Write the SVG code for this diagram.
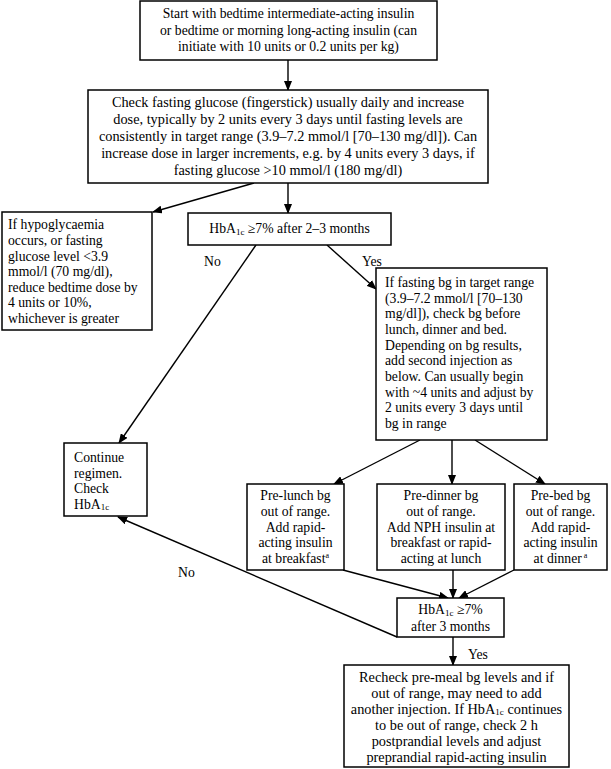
<svg xmlns="http://www.w3.org/2000/svg" width="611" height="769" viewBox="0 0 611 769">
<defs>
<marker id="ah" markerWidth="10" markerHeight="8" refX="9" refY="4" orient="auto" markerUnits="userSpaceOnUse">
<path d="M0,0 L10,4 L0,8 Z" fill="#000"/>
</marker>
<style>
.box{fill:#fff;stroke:#000;stroke-width:1.5}
.t{font-family:"Liberation Serif","Times New Roman",serif;font-size:13.7px;fill:#000}
.w{font-size:14.3px}
.c{text-anchor:middle}
.arr{stroke:#000;stroke-width:1.4;fill:none;marker-end:url(#ah)}
</style>
</defs>
<rect width="611" height="769" fill="#fff"/>
<g id="connectors">
<line class="arr" x1="288" y1="60" x2="288" y2="90"/>
<line class="arr" x1="254" y1="183" x2="153" y2="212"/>
<line class="arr" x1="288" y1="183" x2="288" y2="213"/>
<line class="arr" x1="256" y1="245" x2="119" y2="443"/>
<line class="arr" x1="327" y1="245" x2="376" y2="289"/>
<line class="arr" x1="420" y1="440" x2="334" y2="484"/>
<line class="arr" x1="452" y1="440" x2="452" y2="484"/>
<line class="arr" x1="475" y1="440" x2="545" y2="484"/>
<line class="arr" x1="343" y1="570" x2="448" y2="598"/>
<line class="arr" x1="453" y1="570" x2="453" y2="598"/>
<line class="arr" x1="514" y1="570" x2="459" y2="598"/>
<line class="arr" x1="397" y1="637" x2="118" y2="517"/>
<line class="arr" x1="453" y1="637" x2="453" y2="665"/>
<text class="t" x="204" y="266">No</text>
<text class="t" x="362" y="266">Yes</text>
<text class="t" x="178" y="577">No</text>
<text class="t" x="468" y="659">Yes</text>
</g>
<g id="start">
<rect class="box" x="140" y="1" width="297" height="59"/>
<text class="t c" x="288.5" y="18">Start with bedtime intermediate-acting insulin</text>
<text class="t c" x="288.5" y="34.5">or bedtime or morning long-acting insulin (can</text>
<text class="t c" x="288.5" y="51">initiate with 10 units or 0.2 units per kg)</text>
</g>
<g id="check-fasting">
<rect class="box" x="88" y="90" width="400" height="93"/>
<text class="t w c" x="288" y="107">Check fasting glucose (fingerstick) usually daily and increase</text>
<text class="t w c" x="288" y="124">dose, typically by 2 units every 3 days until fasting levels are</text>
<text class="t w c" x="288" y="141">consistently in target range (3.9–7.2 mmol/l [70–130 mg/dl]). Can</text>
<text class="t w c" x="288" y="158">increase dose in larger increments, e.g. by 4 units every 3 days, if</text>
<text class="t w c" x="288" y="175">fasting glucose &gt;10 mmol/l (180 mg/dl)</text>
</g>
<g id="hypo">
<rect class="box" x="2" y="212" width="150" height="118"/>
<text class="t" x="8" y="229">If hypoglycaemia</text>
<text class="t" x="8" y="245">occurs, or fasting</text>
<text class="t" x="8" y="260.5">glucose level &lt;3.9</text>
<text class="t" x="8" y="276">mmol/l (70 mg/dl),</text>
<text class="t" x="8" y="291.5">reduce bedtime dose by</text>
<text class="t" x="8" y="307">4 units or 10%,</text>
<text class="t" x="8" y="322.5">whichever is greater</text>
</g>
<g id="hba1c-1">
<rect class="box" x="188" y="213" width="203" height="32"/>
<text class="t c" x="289.5" y="233">HbA<tspan font-size="9" dy="2">1c</tspan><tspan dy="-2"> ≥7% after 2–3 months</tspan></text>
</g>
<g id="fasting-target">
<rect class="box" x="376" y="268" width="171" height="172"/>
<text class="t" x="385" y="287">If fasting bg in target range</text>
<text class="t" x="385" y="302.5">(3.9–7.2 mmol/l [70–130</text>
<text class="t" x="385" y="318">mg/dl]), check bg before</text>
<text class="t" x="385" y="334">lunch, dinner and bed.</text>
<text class="t" x="385" y="349.5">Depending on bg results,</text>
<text class="t" x="385" y="365">add second injection as</text>
<text class="t" x="385" y="381">below. Can usually begin</text>
<text class="t" x="385" y="396.5">with ~4 units and adjust by</text>
<text class="t" x="385" y="412">2 units every 3 days until</text>
<text class="t" x="385" y="428">bg in range</text>
</g>
<g id="continue">
<rect class="box" x="64" y="443" width="83" height="73"/>
<text class="t" x="74" y="462">Continue</text>
<text class="t" x="74" y="477.5">regimen.</text>
<text class="t" x="74" y="493">Check</text>
<text class="t" x="74" y="509">HbA<tspan font-size="9" dy="1">1c</tspan></text>
</g>
<g id="pre-lunch">
<rect class="box" x="247" y="484" width="97" height="86"/>
<text class="t c" x="295.5" y="500">Pre-lunch bg</text>
<text class="t c" x="295.5" y="516">out of range.</text>
<text class="t c" x="295.5" y="531.5">Add rapid-</text>
<text class="t c" x="295.5" y="547">acting insulin</text>
<text class="t c" x="295.5" y="563">at breakfast<tspan font-size="8" dy="-5">a</tspan></text>
</g>
<g id="pre-dinner">
<rect class="box" x="377" y="484" width="128" height="86"/>
<text class="t c" x="441" y="500">Pre-dinner bg</text>
<text class="t c" x="441" y="516">out of range.</text>
<text class="t c" x="441" y="531.5">Add NPH insulin at</text>
<text class="t c" x="441" y="547">breakfast or rapid-</text>
<text class="t c" x="441" y="563">acting at lunch</text>
</g>
<g id="pre-bed">
<rect class="box" x="514" y="484" width="93" height="86"/>
<text class="t c" x="560.5" y="500">Pre-bed bg</text>
<text class="t c" x="560.5" y="516">out of range.</text>
<text class="t c" x="560.5" y="531.5">Add rapid-</text>
<text class="t c" x="560.5" y="547">acting insulin</text>
<text class="t c" x="560.5" y="563">at dinner<tspan font-size="8" dy="-5"> a</tspan></text>
</g>
<g id="hba1c-2">
<rect class="box" x="397" y="598" width="107" height="39"/>
<text class="t c" x="450.5" y="614">HbA<tspan font-size="9" dy="2">1c</tspan><tspan dy="-2"> ≥7%</tspan></text>
<text class="t c" x="450.5" y="631">after 3 months</text>
</g>
<g id="recheck">
<rect class="box" x="344" y="665" width="225" height="102"/>
<text class="t w c" x="456.5" y="682">Recheck pre-meal bg levels and if</text>
<text class="t w c" x="456.5" y="698">out of range, may need to add</text>
<text class="t w c" x="456.5" y="714">another injection. If HbA<tspan font-size="9" dy="1">1c</tspan><tspan dy="-1"> continues</tspan></text>
<text class="t w c" x="456.5" y="730">to be out of range, check 2 h</text>
<text class="t w c" x="456.5" y="746">postprandial levels and adjust</text>
<text class="t w c" x="456.5" y="762">preprandial rapid-acting insulin</text>
</g>
</svg>
